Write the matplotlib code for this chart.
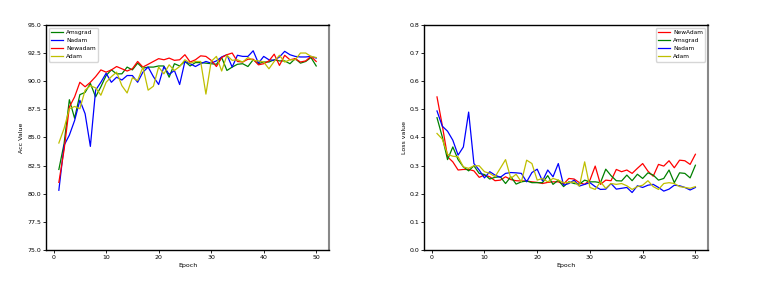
import matplotlib
matplotlib.use("Agg")
import matplotlib.pyplot as plt
import numpy as np

epochs = list(range(1, 51))

acc_amsgrad = [82.15, 84.45, 88.35, 86.7, 88.8, 89.0, 89.8, 88.6, 89.5, 90.5,
               91.0, 90.65, 90.65, 91.25, 91.0, 91.6, 91.15, 91.25, 91.25, 91.35,
               91.35, 90.35, 91.55, 91.35, 91.75, 91.35, 91.65, 91.65, 91.6, 91.55,
               91.5, 92.1, 90.95, 91.25, 91.5, 91.55, 91.3, 91.9, 91.55, 91.7,
               91.7, 91.9, 91.8, 91.8, 91.55, 92.0, 91.6, 91.75, 92.1, 91.35]
acc_nadam = [80.3, 84.3, 85.2, 86.5, 88.3, 87.1, 84.2, 89.2, 89.9, 90.7,
             89.9, 90.35, 90.1, 90.5, 90.5, 89.9, 90.8, 91.25, 90.4, 89.7,
             91.3, 90.6, 90.95, 89.7, 91.75, 91.55, 91.3, 91.55, 91.75, 91.6,
             91.8, 92.15, 92.35, 91.25, 92.3, 92.2, 92.2, 92.7, 91.6, 92.2,
             91.9, 91.85, 92.15, 92.65, 92.35, 92.2, 92.15, 92.15, 92.2, 92.05]
acc_newadam = [81.0, 83.9, 87.7, 88.6, 89.9, 89.5, 89.9, 90.4, 91.0, 90.8,
               91.0, 91.3, 91.1, 90.9, 91.1, 91.75, 91.25, 91.5, 91.75, 92.0,
               91.9, 92.05, 91.85, 91.9, 92.35, 91.7, 91.9, 92.25, 92.2, 91.85,
               91.3, 92.1, 92.35, 92.5, 91.75, 91.7, 91.95, 91.95, 91.45, 91.55,
               91.8, 92.4, 91.4, 92.3, 91.9, 92.0, 91.7, 91.8, 92.2, 91.75]
acc_adam = [84.5, 85.8, 87.55, 87.75, 87.55, 89.2, 89.6, 89.4, 88.75, 89.9,
            90.4, 90.8, 89.6, 88.95, 90.3, 90.05, 91.25, 89.2, 89.55, 91.25,
            90.65, 91.45, 90.95, 91.3, 91.9, 91.6, 91.75, 91.75, 88.85, 91.75,
            92.2, 90.9, 92.3, 91.85, 91.9, 91.7, 92.1, 91.85, 91.8, 91.7,
            91.1, 91.75, 92.3, 91.7, 91.9, 91.9, 92.5, 92.5, 92.2, 92.1]

loss_newadam = [0.544, 0.443, 0.331, 0.313, 0.284, 0.286, 0.286, 0.281, 0.258, 0.266,
                0.26, 0.246, 0.248, 0.26, 0.25, 0.246, 0.245, 0.245, 0.242, 0.24,
                0.236, 0.24, 0.242, 0.242, 0.234, 0.254, 0.252, 0.239, 0.233, 0.248,
                0.298, 0.233, 0.248, 0.246, 0.286, 0.278, 0.284, 0.272, 0.29, 0.307,
                0.28, 0.262, 0.304, 0.298, 0.317, 0.292, 0.319, 0.317, 0.304, 0.34]
loss_amsgrad = [0.47, 0.402, 0.321, 0.366, 0.321, 0.295, 0.281, 0.299, 0.272, 0.268,
                0.252, 0.258, 0.26, 0.236, 0.26, 0.234, 0.242, 0.245, 0.239, 0.239,
                0.239, 0.264, 0.233, 0.248, 0.225, 0.242, 0.236, 0.234, 0.248, 0.242,
                0.242, 0.239, 0.287, 0.264, 0.246, 0.245, 0.266, 0.246, 0.269, 0.254,
                0.274, 0.266, 0.248, 0.254, 0.284, 0.239, 0.274, 0.272, 0.256, 0.301]
loss_nadam = [0.494, 0.44, 0.422, 0.39, 0.337, 0.366, 0.49, 0.307, 0.284, 0.256,
              0.278, 0.266, 0.258, 0.272, 0.275, 0.274, 0.272, 0.242, 0.275, 0.287,
              0.245, 0.284, 0.26, 0.307, 0.23, 0.236, 0.248, 0.227, 0.233, 0.239,
              0.225, 0.215, 0.216, 0.236, 0.216, 0.219, 0.222, 0.204, 0.228, 0.222,
              0.23, 0.233, 0.222, 0.209, 0.216, 0.23, 0.228, 0.222, 0.213, 0.222]
loss_adam = [0.414, 0.394, 0.34, 0.333, 0.331, 0.295, 0.29, 0.299, 0.299, 0.278,
             0.272, 0.26, 0.29, 0.321, 0.254, 0.269, 0.242, 0.319, 0.307, 0.248,
             0.254, 0.242, 0.254, 0.248, 0.239, 0.239, 0.242, 0.227, 0.313, 0.222,
             0.215, 0.242, 0.219, 0.236, 0.233, 0.236, 0.228, 0.215, 0.225, 0.23,
             0.246, 0.225, 0.215, 0.236, 0.239, 0.236, 0.225, 0.222, 0.219, 0.225]

fs = 4.5
lfs = 4.2
lw = 0.9

fig = plt.figure(figsize=(7.6, 2.83), dpi=100)
ax1 = fig.add_axes([0.0605, 0.117, 0.3725, 0.795])
ax2 = fig.add_axes([0.558, 0.117, 0.374, 0.795])

ax1.plot(epochs, acc_amsgrad, color='g', lw=lw, label='Amsgrad')
ax1.plot(epochs, acc_nadam, color='b', lw=lw, label='Nadam')
ax1.plot(epochs, acc_newadam, color='r', lw=lw, label='Newadam')
ax1.plot(epochs, acc_adam, color='y', lw=lw, label='Adam')
ax1.set_ylim(75, 95)
ax1.set_yticks(np.arange(75, 95.1, 2.5))
ax1.set_xticks([0, 10, 20, 30, 40, 50])
ax1.set_xlabel('Epoch', fontsize=fs, labelpad=2)
ax1.set_ylabel('Acc Value', fontsize=fs, labelpad=2)
ax1.legend(loc='upper left', fontsize=lfs, handlelength=2.0, borderpad=0.4,
           labelspacing=0.5, handletextpad=0.6)

ax2.plot(epochs, loss_newadam, color='r', lw=lw, label='NewAdam')
ax2.plot(epochs, loss_amsgrad, color='g', lw=lw, label='Amsgrad')
ax2.plot(epochs, loss_nadam, color='b', lw=lw, label='Nadam')
ax2.plot(epochs, loss_adam, color='y', lw=lw, label='Adam')
ax2.set_ylim(0.0, 0.8)
ax2.set_yticks(np.arange(0, 0.81, 0.1))
ax2.set_xticks([0, 10, 20, 30, 40, 50])
ax2.set_xlabel('Epoch', fontsize=fs, labelpad=2)
ax2.set_ylabel('Loss value', fontsize=fs, labelpad=2)
ax2.legend(loc='upper right', fontsize=lfs, handlelength=2.0, borderpad=0.4,
           labelspacing=0.5, handletextpad=0.6)

for ax in (ax1, ax2):
    ax.tick_params(labelsize=fs, length=2, width=0.6, pad=1.5)
    for s in ax.spines.values():
        s.set_linewidth(1.0)
        s.set_color('black')
    ax.spines['right'].set_color('#888888')
    ax.spines['right'].set_linewidth(1.5)

fig.savefig('out.png', dpi=100)
